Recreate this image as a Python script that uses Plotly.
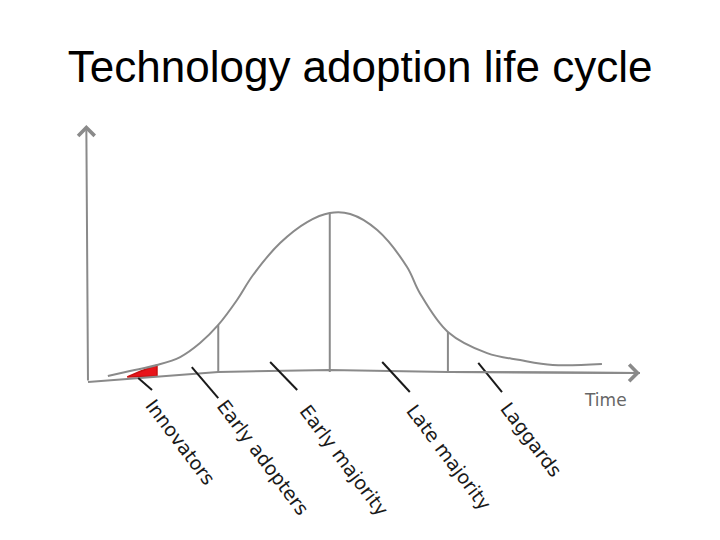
import plotly.graph_objects as go

# bell curve (time units vs. relative adoption, peak = 100)
curve_t = [0.36, 0.76, 1.25, 1.67, 2.03, 2.36, 2.70, 2.99, 3.48, 3.97,
           4.38, 4.75, 5.24, 5.78, 6.01, 6.52, 7.23, 7.83, 8.42, 9.31]
curve_v = [-2.5, 0.6, 4.4, 9.4, 18.2, 29.6, 45.3, 61.0, 81.1, 94.3,
           100.0, 99.4, 89.3, 66.0, 49.7, 25.2, 11.9, 7.5, 4.4, 5.0]

# segment dividers (time, height of curve there)
divider_t = [2.36, 4.38, 6.52]
divider_v = [29.6, 100.0, 25.2]

# hand-drawn time axis, slightly wobbly
axis_t = [0.0, 2.36, 4.38, 6.52, 10.0]
axis_v = [-6.3, 0.0, 1.3, 0.0, -0.6]
y_axis_top = 155.3

# shaded innovators sliver
innov_t = [0.71, 0.95, 1.25, 1.25, 0.71]
innov_v = [-3.1, 0.5, 4.4, -2.5, -3.1]

# category labels and their leader lines
labels = ["Innovators", "Early adopters", "Early majority", "Late majority", "Laggards"]
label_t = [1.68, 3.17, 4.64, 6.54, 8.03]
label_v = [-44.0, -53.5, -55.3, -53.5, -42.1]
leader_t0 = [0.91, 1.88, 3.30, 5.33, 7.07]
leader_v0 = [-3.8, 3.1, 6.3, 6.3, 5.7]
leader_t1 = [1.16, 2.36, 3.79, 5.83, 7.50]
leader_v1 = [-11.3, -16.4, -11.3, -12.6, -12.6]

GREY = "#8a8a8a"
HAND = "DejaVu Sans"

fig = go.Figure()

fig.add_trace(go.Scatter(x=innov_t, y=innov_v, mode="lines", fill="toself",
                         fillcolor="#e8141a", line=dict(color="#c81010", width=1.5)))
fig.add_trace(go.Scatter(x=axis_t, y=axis_v, mode="lines",
                         line=dict(color=GREY, width=2)))
fig.add_trace(go.Scatter(x=curve_t, y=curve_v, mode="lines", line_shape="spline",
                         line=dict(color=GREY, width=2)))

for t, v in zip(divider_t, divider_v):
    fig.add_trace(go.Scatter(x=[t, t], y=[0, v], mode="lines",
                             line=dict(color=GREY, width=2)))

for t0, v0, t1, v1 in zip(leader_t0, leader_v0, leader_t1, leader_v1):
    fig.add_trace(go.Scatter(x=[t0, t1], y=[v0, v1], mode="lines",
                             line=dict(color="#1a1a1a", width=2)))

# arrow heads on both axes
fig.add_annotation(x=axis_t[-1], y=axis_v[-1], ax=axis_t[-2], ay=axis_v[-2],
                   xref="x", yref="y", axref="x", ayref="y", text="",
                   showarrow=True, arrowhead=4, arrowsize=1.6, arrowwidth=2,
                   arrowcolor=GREY)
fig.add_annotation(x=-0.03, y=y_axis_top, ax=axis_t[0], ay=axis_v[0],
                   xref="x", yref="y", axref="x", ayref="y", text="",
                   showarrow=True, arrowhead=4, arrowsize=1.6, arrowwidth=2,
                   arrowcolor=GREY)

for name, t, v in zip(labels, label_t, label_v):
    fig.add_annotation(x=t, y=v, text=name, showarrow=False, textangle=53,
                       xanchor="center", yanchor="middle",
                       font=dict(family=HAND, size=19, color="#1a1a1a"))

fig.add_annotation(x=9.38, y=-17.6, text="Time", showarrow=False,
                   font=dict(family=HAND, size=17, color="#666666"))

# the page adds an 8px body margin, so the ranges are shifted to compensate
fig.update_layout(
    width=720,
    height=540,
    template="plotly_white",
    showlegend=False,
    margin=dict(l=0, r=0, t=0, b=0),
    title=dict(text="Technology adoption life cycle", x=0.489, y=0.891,
               xanchor="center", yanchor="middle",
               font=dict(family="Liberation Sans", size=44, color="black")),
    xaxis=dict(range=[-1.449, 11.594], visible=False),
    yaxis=dict(range=[-110.69, 228.93], visible=False),
    plot_bgcolor="white",
    paper_bgcolor="white",
)

fig.write_html("out.html")
